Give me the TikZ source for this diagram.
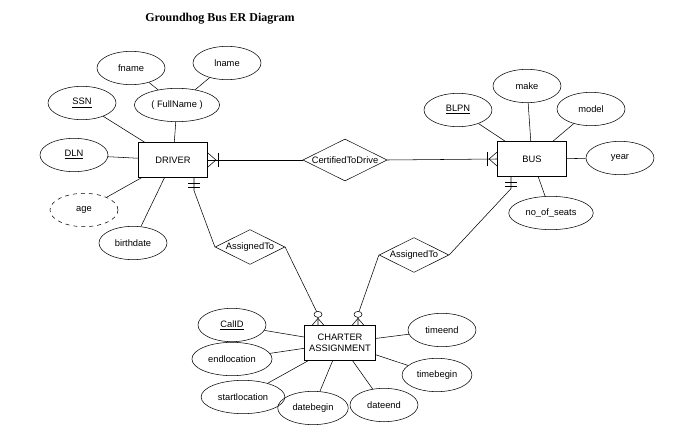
\documentclass[tikz,border=0pt]{standalone}
\usepackage{fontspec}
\setmainfont{Liberation Sans}
\newfontfamily\titlefont{Liberation Serif}
\usetikzlibrary{shapes,positioning,calc}

\begin{document}
\begin{tikzpicture}[
    x=0.75pt, y=-0.75pt,
    ent/.style={rectangle, draw, minimum width=52pt, minimum height=26pt, align=center, font=\scriptsize},
    rel/.style={diamond, draw, aspect=2, inner sep=0.5pt, minimum width=51pt, minimum height=26pt, font=\scriptsize},
    attr/.style={ellipse, draw, minimum width=51pt, minimum height=25pt, font=\scriptsize},
    key/.style={attr, font=\scriptsize\underline},
    link/.style={draw, semithick}
]
    \useasboundingbox (0,0) rectangle (676,435);
    \node[font=\titlefont\bfseries\small] (title) at (220,19) {Groundhog Bus ER Diagram};

    % Entities
    \node[ent] (driver) at (173,160) {DRIVER};
    \node[ent] (bus) at (532,159) {BUS};
    \node[ent] (charter) at (340,343) {CHARTER\\ASSIGNMENT};

    % Relationships
    \node[rel] (cert) at (345,160) {CertifiedToDrive};
    \node[rel] (asgA) at (250,247) {AssignedTo};
    \node[rel] (asgB) at (414,255) {AssignedTo};

    % Driver attributes
    \node[attr] (fname) at (131,68) {fname};
    \node[attr] (lname) at (227,63) {lname};
    \node[attr] (full) at (177,105) {( FullName )};
    \node[attr] (ssn) at (82,103) {\underline{SSN}};
    \node[attr] (dln) at (74,155) {\underline{DLN}};
    \node[attr, dashed] (age) at (84,210) {age};
    \node[attr] (bdate) at (133,243) {birthdate};

    % Bus attributes
    \node[attr] (blpn) at (458,110) {\underline{BLPN}};
    \node[attr] (make) at (527,86) {make};
    \node[attr] (model) at (591,109) {model};
    \node[attr] (year) at (620,158) {year};
    \node[attr] (seats) at (551,213) {no\_of\_seats};

    % Charter attributes
    \node[attr] (calid) at (232,325) {\underline{CalID}};
    \node[attr] (endloc) at (232,359) {endlocation};
    \node[attr] (startloc) at (243,397) {startlocation};
    \node[attr] (dbegin) at (313,408) {datebegin};
    \node[attr] (dend) at (384,405) {dateend};
    \node[attr] (tbegin) at (437,375) {timebegin};
    \node[attr] (tend) at (442,330) {timeend};

    % Attribute links
    \foreach \a in {full,ssn,dln,age,bdate}
        \draw (\a) -- (driver);
    \draw (fname) -- (full);
    \draw (lname) -- (full);
    \foreach \a in {blpn,make,model,year,seats}
        \draw (\a) -- (bus);
    \foreach \a in {calid,endloc,startloc,dbegin,dend,tbegin,tend}
        \draw (\a) -- (charter);

    % CertifiedToDrive (many to many)
    \coordinate (dE) at (driver.east);
    \coordinate (bW) at (bus.west);
    \draw (dE) -- (cert.west);
    \draw (cert.east) -- (bW);
    \draw ($(dE)+(0,-7)$) -- ($(dE)+(8,0)$) -- ($(dE)+(0,7)$);
    \draw ($(dE)+(10,-7)$) -- ($(dE)+(10,7)$);
    \draw ($(bW)+(0,-7)$) -- ($(bW)+(-8,0)$) -- ($(bW)+(0,7)$);
    \draw ($(bW)+(-10,-7)$) -- ($(bW)+(-10,7)$);

    % AssignedTo links
    \coordinate (dS) at ($(driver.south)+(21,0)$);
    \coordinate (bS) at ($(bus.south)+(-21,0)$);
    \coordinate (cA) at ($(charter.north)+(-22,0)$);
    \coordinate (cB) at ($(charter.north)+(18,0)$);
    \draw (dS) -- ($(dS)+(0,13)$) -- (asgA.west);
    \draw (asgA.east) -- ($(cA)+(0,-11)$) -- (cA);
    \draw (bS) -- ($(bS)+(0,12)$) -- (asgB.east);
    \draw (asgB.west) -- ($(cB)+(0,-11)$) -- (cB);

    % one and only one
    \foreach \p in {dS,bS} {
        \draw ($(\p)+(-6,6)$) -- ($(\p)+(6,6)$);
        \draw ($(\p)+(-6,10)$) -- ($(\p)+(6,10)$);
    }
    % zero or many
    \foreach \p in {cA,cB} {
        \draw ($(\p)+(-6,0)$) -- ($(\p)+(0,-7)$) -- ($(\p)+(6,0)$);
        \draw[fill=white] ($(\p)+(0,-11)$) ellipse (4 and 3);
    }
\end{tikzpicture}
\end{document}
